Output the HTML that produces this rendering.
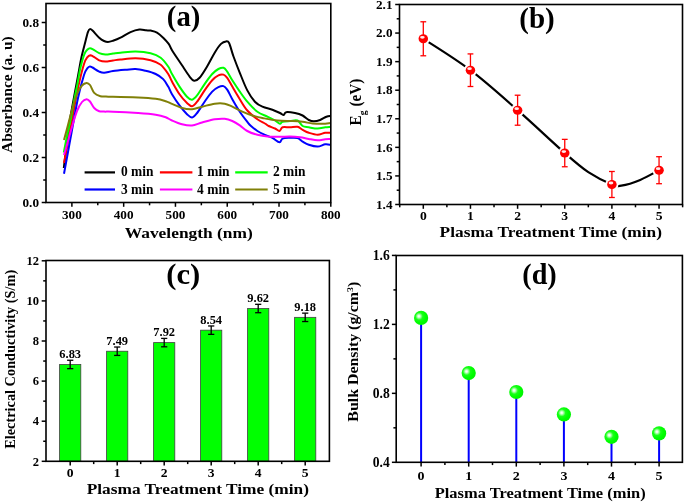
<!DOCTYPE html>
<html><head><meta charset="utf-8"><title>Figure</title>
<style>
html,body{margin:0;padding:0;background:#fff;}
svg{display:block;font-family:"Liberation Serif",serif;font-weight:bold;fill:#000;}
</style></head><body>
<svg width="685" height="502" viewBox="0 0 685 502">
<defs>
<radialGradient id="gg" cx="0.38" cy="0.4" r="0.62" fx="0.34" fy="0.38">
<stop offset="0" stop-color="#ffffff"/><stop offset="0.12" stop-color="#e0ffe0"/><stop offset="0.42" stop-color="#18ff18"/><stop offset="0.7" stop-color="#00ff00"/><stop offset="1" stop-color="#00f200"/>
</radialGradient>
</defs>
<rect width="685" height="502" fill="#fff"/>
<g id="pa">
<path d="M63.8,168.0 C64.2,164.3 65.7,153.0 66.5,146.0 C67.3,139.0 67.7,133.7 68.9,126.0 C70.1,118.3 72.0,108.4 73.5,100.0 C75.0,91.6 76.8,82.5 78.1,75.5 C79.4,68.5 80.1,63.6 81.3,58.0 C82.5,52.4 84.2,46.4 85.3,42.0 C86.4,37.6 87.2,34.0 88.0,31.8 C88.8,29.7 89.2,29.3 89.9,29.1 C90.7,28.9 91.0,29.1 92.5,30.5 C94.0,31.9 97.3,36.0 99.2,37.7 C101.1,39.5 102.5,40.3 104.0,41.0 C105.5,41.7 106.5,42.0 108.0,42.0 C109.5,42.0 110.9,41.5 113.0,40.8 C115.1,40.1 117.6,39.2 120.5,37.7 C123.4,36.2 127.4,33.5 130.5,32.1 C133.6,30.8 136.7,29.9 139.3,29.6 C141.9,29.3 144.1,30.1 146.0,30.3 C147.9,30.5 148.8,30.2 150.6,30.6 C152.4,31.0 154.9,31.4 157.0,32.6 C159.1,33.8 161.2,35.8 163.2,37.7 C165.1,39.6 167.2,41.8 168.7,43.9 C170.2,46.0 169.8,46.6 172.0,50.2 C174.2,53.8 179.1,60.9 182.0,65.3 C184.9,69.7 187.6,74.0 189.6,76.6 C191.6,79.2 192.4,80.6 194.1,80.8 C195.8,81.0 197.4,80.2 199.6,77.8 C201.8,75.4 204.6,70.7 207.1,66.5 C209.6,62.3 212.4,56.5 214.7,52.7 C217.0,48.9 219.1,45.8 221.0,43.9 C222.9,42.0 224.6,41.5 226.0,41.4 C227.4,41.3 227.9,40.7 229.2,43.2 C230.4,45.7 231.7,51.6 233.5,56.5 C235.3,61.4 237.5,67.1 239.8,72.8 C242.1,78.5 244.8,85.6 247.3,90.4 C249.8,95.2 252.4,99.0 254.9,101.7 C257.4,104.4 259.5,105.4 262.4,106.7 C265.3,108.0 269.5,108.7 272.4,109.7 C275.3,110.8 278.1,112.1 280.0,113.0 C281.9,113.9 282.7,115.1 283.7,115.0 C284.7,114.9 284.3,112.5 286.2,112.2 C288.1,111.9 292.3,112.5 295.0,113.0 C297.7,113.5 300.3,114.3 302.6,115.5 C304.9,116.7 306.9,119.0 308.8,120.0 C310.7,121.0 312.0,121.3 313.9,121.3 C315.8,121.3 318.0,120.8 320.1,120.0 C322.2,119.2 324.6,117.4 326.4,116.7 C328.2,116.0 330.0,116.1 330.7,116.0" fill="none" stroke="black" stroke-width="2" stroke-linejoin="round"/>
<path d="M64.0,163.0 C64.7,159.5 66.7,149.2 68.0,142.0 C69.3,134.8 70.3,129.0 72.0,120.0 C73.7,111.0 76.0,97.3 78.0,88.0 C80.0,78.7 82.4,69.1 84.0,64.0 C85.6,58.9 86.4,58.7 87.5,57.2 C88.6,55.7 89.5,55.4 90.4,55.2 C91.3,55.1 91.5,55.4 93.0,56.3 C94.5,57.1 97.1,59.4 99.2,60.3 C101.3,61.2 103.1,61.5 105.4,61.5 C107.7,61.5 110.5,60.7 113.0,60.4 C115.5,60.1 116.7,59.9 120.5,59.5 C124.3,59.1 130.6,58.1 135.6,58.2 C140.6,58.3 146.4,59.2 150.6,60.3 C154.8,61.4 157.8,62.5 160.7,64.8 C163.6,67.1 166.3,71.2 168.2,74.0 C170.1,76.8 170.1,78.2 172.0,81.6 C173.9,85.0 177.0,90.6 179.5,94.2 C182.0,97.8 184.9,101.0 187.0,103.0 C189.1,105.0 190.4,106.4 192.1,106.2 C193.8,106.0 195.0,104.3 197.1,101.7 C199.2,99.1 202.1,94.0 204.6,90.4 C207.1,86.8 209.9,82.8 212.2,80.3 C214.5,77.8 216.5,76.2 218.4,75.3 C220.3,74.3 222.0,74.2 223.5,74.6 C225.0,75.0 225.7,75.8 227.2,77.8 C228.7,79.8 230.2,83.0 232.3,86.6 C234.4,90.2 237.3,95.2 239.8,99.2 C242.3,103.2 244.4,107.2 247.3,110.5 C250.2,113.8 254.5,117.1 257.4,119.3 C260.3,121.5 263.0,122.4 264.9,123.5 C266.8,124.6 267.0,125.2 268.7,126.0 C270.4,126.8 273.2,127.7 275.0,128.5 C276.8,129.3 278.2,131.2 279.5,131.0 C280.8,130.8 280.8,127.9 282.5,127.3 C284.2,126.7 287.5,127.4 290.0,127.3 C292.5,127.2 295.4,126.4 297.5,126.8 C299.6,127.2 300.7,128.8 302.6,129.8 C304.5,130.8 306.3,132.0 308.8,132.8 C311.3,133.6 314.9,134.8 317.6,134.8 C320.3,134.8 323.0,133.1 325.2,132.8 C327.4,132.5 329.8,132.8 330.7,132.8" fill="none" stroke="#ff0000" stroke-width="2" stroke-linejoin="round"/>
<path d="M63.8,152.5 C64.3,149.8 65.9,141.4 67.0,136.0 C68.1,130.6 69.3,125.8 70.5,120.0 C71.7,114.2 72.9,106.9 74.0,101.0 C75.1,95.1 76.2,90.2 77.3,84.6 C78.4,79.0 79.3,72.6 80.5,67.5 C81.7,62.4 83.3,56.8 84.5,53.8 C85.7,50.8 86.6,50.4 87.5,49.5 C88.4,48.6 89.1,48.2 90.0,48.2 C90.9,48.2 91.5,48.5 93.0,49.3 C94.5,50.1 97.1,52.3 99.2,53.2 C101.3,54.1 103.1,54.4 105.4,54.5 C107.7,54.6 110.5,53.9 113.0,53.6 C115.5,53.3 116.7,53.1 120.5,52.7 C124.3,52.4 130.6,51.4 135.6,51.5 C140.6,51.6 146.4,52.2 150.6,53.2 C154.8,54.2 157.8,55.5 160.7,57.7 C163.6,59.9 166.3,63.8 168.2,66.5 C170.1,69.2 170.1,70.7 172.0,74.0 C173.9,77.3 177.0,82.8 179.5,86.6 C182.0,90.4 184.9,94.5 187.0,96.7 C189.1,98.9 190.4,99.9 192.1,99.7 C193.8,99.5 195.0,98.0 197.1,95.4 C199.2,92.8 202.1,87.7 204.6,84.1 C207.1,80.5 209.9,76.5 212.2,74.0 C214.5,71.5 216.5,70.0 218.4,69.0 C220.3,68.0 222.0,67.4 223.5,67.8 C225.0,68.2 225.7,69.5 227.2,71.6 C228.7,73.7 230.2,77.0 232.3,80.3 C234.4,83.6 237.3,88.0 239.8,91.6 C242.3,95.2 244.4,98.3 247.3,101.7 C250.2,105.1 254.0,109.2 257.4,111.7 C260.8,114.2 264.5,115.2 267.4,116.7 C270.3,118.2 272.9,119.3 275.0,120.5 C277.1,121.7 278.8,123.6 280.0,123.8 C281.2,124.0 280.8,122.3 282.5,121.8 C284.2,121.3 287.5,121.2 290.0,121.0 C292.5,120.8 295.4,119.7 297.5,120.5 C299.6,121.3 300.7,124.9 302.6,126.0 C304.5,127.1 306.3,126.9 308.8,127.3 C311.3,127.7 314.9,128.5 317.6,128.5 C320.3,128.5 323.0,127.6 325.2,127.3 C327.4,127.0 329.8,126.9 330.7,126.8" fill="none" stroke="#00ff00" stroke-width="2" stroke-linejoin="round"/>
<path d="M64.0,173.7 C64.7,170.1 66.7,159.3 68.0,152.0 C69.3,144.7 70.3,139.0 72.0,130.0 C73.7,121.0 76.0,107.2 78.0,98.0 C80.0,88.8 82.4,80.0 84.0,75.0 C85.6,70.0 86.5,69.6 87.5,68.2 C88.5,66.8 89.1,66.6 89.9,66.5 C90.7,66.4 91.0,66.7 92.5,67.5 C94.0,68.3 97.2,70.7 99.2,71.6 C101.2,72.5 101.9,72.9 104.2,72.8 C106.5,72.7 109.5,71.5 113.0,71.0 C116.5,70.5 121.7,70.1 125.5,69.8 C129.3,69.5 132.2,68.8 135.6,69.0 C138.9,69.2 142.2,70.0 145.6,70.8 C148.9,71.6 152.8,72.6 155.7,74.0 C158.6,75.4 161.1,77.0 163.2,79.1 C165.3,81.2 166.7,84.1 168.2,86.6 C169.7,89.1 170.1,91.1 172.0,94.2 C173.9,97.3 177.0,102.1 179.5,105.4 C182.0,108.7 184.9,112.2 187.0,114.2 C189.1,116.2 190.4,117.7 192.1,117.5 C193.8,117.3 195.0,115.6 197.1,113.0 C199.2,110.4 202.1,105.3 204.6,101.7 C207.1,98.1 209.9,94.0 212.2,91.6 C214.5,89.2 216.5,88.0 218.4,87.1 C220.3,86.2 222.0,85.7 223.5,86.1 C225.0,86.5 225.7,87.4 227.2,89.6 C228.7,91.8 230.2,95.5 232.3,99.2 C234.4,102.9 237.3,107.9 239.8,111.7 C242.3,115.5 245.4,119.4 247.3,121.8 C249.2,124.2 249.3,124.5 251.0,126.0 C252.7,127.5 255.1,129.5 257.4,131.0 C259.7,132.5 262.4,133.7 264.9,134.8 C267.4,135.9 270.0,136.6 272.4,137.8 C274.8,139.1 277.8,142.2 279.5,142.3 C281.2,142.4 280.8,139.3 282.5,138.6 C284.2,137.8 287.5,137.9 290.0,137.8 C292.5,137.7 295.4,137.4 297.5,138.0 C299.6,138.6 300.7,140.5 302.6,141.6 C304.5,142.7 306.3,144.0 308.8,144.8 C311.3,145.6 314.9,146.7 317.6,146.6 C320.3,146.5 323.0,144.6 325.2,144.3 C327.4,144.0 329.8,144.7 330.7,144.8" fill="none" stroke="#0000ff" stroke-width="2" stroke-linejoin="round"/>
<path d="M64.0,155.0 C64.7,152.7 66.7,145.7 68.0,141.0 C69.3,136.3 70.5,132.0 72.0,127.0 C73.5,122.0 75.3,115.2 77.0,111.0 C78.7,106.8 80.4,104.0 82.0,102.0 C83.6,100.0 85.3,99.3 86.6,99.2 C87.9,99.1 88.7,100.0 90.0,101.5 C91.3,103.0 92.7,106.4 94.2,108.0 C95.7,109.6 97.6,110.6 99.2,111.2 C100.8,111.8 101.7,111.5 104.0,111.6 C106.3,111.7 107.3,111.5 113.0,111.7 C118.7,111.9 131.0,112.5 138.1,113.0 C145.2,113.5 151.1,114.0 155.7,114.7 C160.3,115.4 163.0,116.3 165.7,117.3 C168.4,118.3 169.3,119.3 172.0,120.5 C174.7,121.7 178.7,123.5 182.0,124.3 C185.3,125.1 188.7,125.8 192.0,125.5 C195.3,125.2 198.3,123.5 202.1,122.5 C205.9,121.5 210.9,119.9 214.7,119.3 C218.5,118.7 221.8,118.5 224.7,118.8 C227.6,119.1 229.8,119.9 232.3,121.0 C234.8,122.1 237.3,123.7 239.8,125.4 C242.3,127.1 244.4,129.4 247.3,131.0 C250.2,132.6 254.0,133.9 257.4,134.8 C260.8,135.7 263.6,136.2 267.4,136.5 C271.2,136.8 276.2,136.8 280.0,136.8 C283.8,136.8 286.7,136.4 290.0,136.5 C293.3,136.6 296.9,136.9 300.0,137.3 C303.1,137.7 305.9,138.5 308.8,139.0 C311.7,139.5 314.9,140.2 317.6,140.3 C320.3,140.4 323.0,139.5 325.2,139.3 C327.4,139.1 329.8,139.1 330.7,139.0" fill="none" stroke="#ff00ff" stroke-width="2" stroke-linejoin="round"/>
<path d="M64.0,140.0 C64.7,137.5 66.7,130.0 68.0,125.0 C69.3,120.0 70.5,115.2 72.0,110.0 C73.5,104.8 75.3,98.1 77.0,94.0 C78.7,89.9 80.4,87.3 82.0,85.5 C83.6,83.7 85.3,83.0 86.6,82.9 C87.9,82.8 88.7,83.3 90.0,85.0 C91.3,86.7 92.5,91.0 94.2,92.9 C95.9,94.8 98.4,95.6 100.4,96.2 C102.4,96.8 103.9,96.5 106.0,96.6 C108.1,96.7 107.7,96.6 113.0,96.7 C118.3,96.8 131.0,97.1 138.1,97.4 C145.2,97.7 151.1,98.1 155.7,98.7 C160.3,99.3 163.0,100.3 165.7,101.2 C168.4,102.1 169.3,102.8 172.0,103.9 C174.7,105.0 178.7,107.1 182.0,108.0 C185.3,108.9 188.8,109.4 192.1,109.2 C195.4,109.0 198.3,107.6 202.1,106.7 C205.9,105.8 210.9,104.2 214.7,103.7 C218.5,103.2 221.8,103.2 224.7,103.7 C227.6,104.2 229.4,105.4 232.3,106.7 C235.2,108.0 239.0,110.2 242.3,111.7 C245.6,113.2 249.0,114.5 252.3,115.5 C255.7,116.5 258.2,117.2 262.4,118.0 C266.6,118.8 272.4,120.0 277.4,120.5 C282.4,121.0 288.3,120.8 292.5,121.0 C296.7,121.2 299.2,121.4 302.6,121.8 C306.0,122.2 309.3,123.2 312.6,123.5 C315.9,123.8 319.6,123.9 322.6,123.8 C325.6,123.7 329.4,123.1 330.7,123.0" fill="none" stroke="#808008" stroke-width="2" stroke-linejoin="round"/>
<rect x="46" y="3.5" width="284.8" height="199.0" fill="none" stroke="#000" stroke-width="1.6"/>
<line x1="41.70" y1="202.50" x2="46.00" y2="202.50" stroke="#000" stroke-width="1.5" />
<text x="39.00" y="206.70" font-size="12.5" text-anchor="end" textLength="16.5" lengthAdjust="spacingAndGlyphs" >0.0</text>
<line x1="41.70" y1="157.50" x2="46.00" y2="157.50" stroke="#000" stroke-width="1.5" />
<text x="39.00" y="161.70" font-size="12.5" text-anchor="end" textLength="16.5" lengthAdjust="spacingAndGlyphs" >0.2</text>
<line x1="41.70" y1="112.50" x2="46.00" y2="112.50" stroke="#000" stroke-width="1.5" />
<text x="39.00" y="116.70" font-size="12.5" text-anchor="end" textLength="16.5" lengthAdjust="spacingAndGlyphs" >0.4</text>
<line x1="41.70" y1="67.50" x2="46.00" y2="67.50" stroke="#000" stroke-width="1.5" />
<text x="39.00" y="71.70" font-size="12.5" text-anchor="end" textLength="16.5" lengthAdjust="spacingAndGlyphs" >0.6</text>
<line x1="41.70" y1="22.50" x2="46.00" y2="22.50" stroke="#000" stroke-width="1.5" />
<text x="39.00" y="26.70" font-size="12.5" text-anchor="end" textLength="16.5" lengthAdjust="spacingAndGlyphs" >0.8</text>
<line x1="43.20" y1="180.00" x2="46.00" y2="180.00" stroke="#000" stroke-width="1.5" />
<line x1="43.20" y1="135.00" x2="46.00" y2="135.00" stroke="#000" stroke-width="1.5" />
<line x1="43.20" y1="90.00" x2="46.00" y2="90.00" stroke="#000" stroke-width="1.5" />
<line x1="43.20" y1="45.00" x2="46.00" y2="45.00" stroke="#000" stroke-width="1.5" />
<line x1="71.89" y1="202.50" x2="71.89" y2="206.80" stroke="#000" stroke-width="1.5" />
<text x="71.89" y="219.10" font-size="12.5" text-anchor="middle" textLength="19.8" lengthAdjust="spacingAndGlyphs" >300</text>
<line x1="123.67" y1="202.50" x2="123.67" y2="206.80" stroke="#000" stroke-width="1.5" />
<text x="123.67" y="219.10" font-size="12.5" text-anchor="middle" textLength="19.8" lengthAdjust="spacingAndGlyphs" >400</text>
<line x1="175.45" y1="202.50" x2="175.45" y2="206.80" stroke="#000" stroke-width="1.5" />
<text x="175.45" y="219.10" font-size="12.5" text-anchor="middle" textLength="19.8" lengthAdjust="spacingAndGlyphs" >500</text>
<line x1="227.24" y1="202.50" x2="227.24" y2="206.80" stroke="#000" stroke-width="1.5" />
<text x="227.24" y="219.10" font-size="12.5" text-anchor="middle" textLength="19.8" lengthAdjust="spacingAndGlyphs" >600</text>
<line x1="279.02" y1="202.50" x2="279.02" y2="206.80" stroke="#000" stroke-width="1.5" />
<text x="279.02" y="219.10" font-size="12.5" text-anchor="middle" textLength="19.8" lengthAdjust="spacingAndGlyphs" >700</text>
<line x1="330.80" y1="202.50" x2="330.80" y2="206.80" stroke="#000" stroke-width="1.5" />
<text x="330.80" y="219.10" font-size="12.5" text-anchor="middle" textLength="19.8" lengthAdjust="spacingAndGlyphs" >800</text>
<line x1="97.78" y1="202.50" x2="97.78" y2="205.30" stroke="#000" stroke-width="1.5" />
<line x1="149.56" y1="202.50" x2="149.56" y2="205.30" stroke="#000" stroke-width="1.5" />
<line x1="201.35" y1="202.50" x2="201.35" y2="205.30" stroke="#000" stroke-width="1.5" />
<line x1="253.13" y1="202.50" x2="253.13" y2="205.30" stroke="#000" stroke-width="1.5" />
<line x1="304.91" y1="202.50" x2="304.91" y2="205.30" stroke="#000" stroke-width="1.5" />
<text x="188.80" y="237.70" font-size="15" text-anchor="middle" textLength="128" lengthAdjust="spacingAndGlyphs" >Wavelength (nm)</text>
<text transform="translate(11.50,94.70) rotate(-90)" font-size="14.5" text-anchor="middle" textLength="116.5" lengthAdjust="spacingAndGlyphs">Absorbance (a. u)</text>
<text x="183.60" y="26.00" font-size="29" text-anchor="middle" textLength="33.5" lengthAdjust="spacingAndGlyphs" >(a)</text>
<line x1="84.60" y1="172.40" x2="115.00" y2="172.40" stroke="black" stroke-width="2.2" />
<text x="121.00" y="176.40" font-size="14" text-anchor="start" textLength="32.5" lengthAdjust="spacingAndGlyphs" >0 min</text>
<line x1="159.90" y1="172.40" x2="192.40" y2="172.40" stroke="#ff0000" stroke-width="2.2" />
<text x="197.10" y="176.40" font-size="14" text-anchor="start" textLength="32.5" lengthAdjust="spacingAndGlyphs" >1 min</text>
<line x1="235.20" y1="172.40" x2="267.70" y2="172.40" stroke="#00ff00" stroke-width="2.2" />
<text x="272.90" y="176.40" font-size="14" text-anchor="start" textLength="32.5" lengthAdjust="spacingAndGlyphs" >2 min</text>
<line x1="84.60" y1="189.50" x2="115.00" y2="189.50" stroke="#0000ff" stroke-width="2.2" />
<text x="121.00" y="193.50" font-size="14" text-anchor="start" textLength="32.5" lengthAdjust="spacingAndGlyphs" >3 min</text>
<line x1="159.90" y1="189.50" x2="192.40" y2="189.50" stroke="#ff00ff" stroke-width="2.2" />
<text x="197.10" y="193.50" font-size="14" text-anchor="start" textLength="32.5" lengthAdjust="spacingAndGlyphs" >4 min</text>
<line x1="235.20" y1="189.50" x2="267.70" y2="189.50" stroke="#808008" stroke-width="2.2" />
<text x="272.90" y="193.50" font-size="14" text-anchor="start" textLength="32.5" lengthAdjust="spacingAndGlyphs" >5 min</text>
</g>
<g id="pb">
<rect x="399.5" y="4.5" width="283.0" height="200.0" fill="none" stroke="#000" stroke-width="1.6"/>
<line x1="395.20" y1="204.49" x2="399.50" y2="204.49" stroke="#000" stroke-width="1.5" />
<text x="392.50" y="208.69" font-size="12.5" text-anchor="end" textLength="16.5" lengthAdjust="spacingAndGlyphs" >1.4</text>
<line x1="395.20" y1="175.92" x2="399.50" y2="175.92" stroke="#000" stroke-width="1.5" />
<text x="392.50" y="180.12" font-size="12.5" text-anchor="end" textLength="16.5" lengthAdjust="spacingAndGlyphs" >1.5</text>
<line x1="395.20" y1="147.35" x2="399.50" y2="147.35" stroke="#000" stroke-width="1.5" />
<text x="392.50" y="151.55" font-size="12.5" text-anchor="end" textLength="16.5" lengthAdjust="spacingAndGlyphs" >1.6</text>
<line x1="395.20" y1="118.78" x2="399.50" y2="118.78" stroke="#000" stroke-width="1.5" />
<text x="392.50" y="122.98" font-size="12.5" text-anchor="end" textLength="16.5" lengthAdjust="spacingAndGlyphs" >1.7</text>
<line x1="395.20" y1="90.21" x2="399.50" y2="90.21" stroke="#000" stroke-width="1.5" />
<text x="392.50" y="94.41" font-size="12.5" text-anchor="end" textLength="16.5" lengthAdjust="spacingAndGlyphs" >1.8</text>
<line x1="395.20" y1="61.64" x2="399.50" y2="61.64" stroke="#000" stroke-width="1.5" />
<text x="392.50" y="65.84" font-size="12.5" text-anchor="end" textLength="16.5" lengthAdjust="spacingAndGlyphs" >1.9</text>
<line x1="395.20" y1="33.07" x2="399.50" y2="33.07" stroke="#000" stroke-width="1.5" />
<text x="392.50" y="37.27" font-size="12.5" text-anchor="end" textLength="16.5" lengthAdjust="spacingAndGlyphs" >2.0</text>
<line x1="395.20" y1="4.50" x2="399.50" y2="4.50" stroke="#000" stroke-width="1.5" />
<text x="392.50" y="8.70" font-size="12.5" text-anchor="end" textLength="16.5" lengthAdjust="spacingAndGlyphs" >2.1</text>
<line x1="396.70" y1="190.21" x2="399.50" y2="190.21" stroke="#000" stroke-width="1.5" />
<line x1="396.70" y1="161.64" x2="399.50" y2="161.64" stroke="#000" stroke-width="1.5" />
<line x1="396.70" y1="133.07" x2="399.50" y2="133.07" stroke="#000" stroke-width="1.5" />
<line x1="396.70" y1="104.50" x2="399.50" y2="104.50" stroke="#000" stroke-width="1.5" />
<line x1="396.70" y1="75.92" x2="399.50" y2="75.92" stroke="#000" stroke-width="1.5" />
<line x1="396.70" y1="47.36" x2="399.50" y2="47.36" stroke="#000" stroke-width="1.5" />
<line x1="396.70" y1="18.79" x2="399.50" y2="18.79" stroke="#000" stroke-width="1.5" />
<line x1="423.30" y1="204.50" x2="423.30" y2="208.80" stroke="#000" stroke-width="1.5" />
<text x="423.30" y="220.30" font-size="12.5" text-anchor="middle" textLength="6.8" lengthAdjust="spacingAndGlyphs" >0</text>
<line x1="470.45" y1="204.50" x2="470.45" y2="208.80" stroke="#000" stroke-width="1.5" />
<text x="470.45" y="220.30" font-size="12.5" text-anchor="middle" textLength="6.8" lengthAdjust="spacingAndGlyphs" >1</text>
<line x1="517.60" y1="204.50" x2="517.60" y2="208.80" stroke="#000" stroke-width="1.5" />
<text x="517.60" y="220.30" font-size="12.5" text-anchor="middle" textLength="6.8" lengthAdjust="spacingAndGlyphs" >2</text>
<line x1="564.75" y1="204.50" x2="564.75" y2="208.80" stroke="#000" stroke-width="1.5" />
<text x="564.75" y="220.30" font-size="12.5" text-anchor="middle" textLength="6.8" lengthAdjust="spacingAndGlyphs" >3</text>
<line x1="611.90" y1="204.50" x2="611.90" y2="208.80" stroke="#000" stroke-width="1.5" />
<text x="611.90" y="220.30" font-size="12.5" text-anchor="middle" textLength="6.8" lengthAdjust="spacingAndGlyphs" >4</text>
<line x1="659.05" y1="204.50" x2="659.05" y2="208.80" stroke="#000" stroke-width="1.5" />
<text x="659.05" y="220.30" font-size="12.5" text-anchor="middle" textLength="6.8" lengthAdjust="spacingAndGlyphs" >5</text>
<line x1="399.73" y1="204.50" x2="399.73" y2="207.30" stroke="#000" stroke-width="1.5" />
<line x1="446.88" y1="204.50" x2="446.88" y2="207.30" stroke="#000" stroke-width="1.5" />
<line x1="494.02" y1="204.50" x2="494.02" y2="207.30" stroke="#000" stroke-width="1.5" />
<line x1="541.17" y1="204.50" x2="541.17" y2="207.30" stroke="#000" stroke-width="1.5" />
<line x1="588.33" y1="204.50" x2="588.33" y2="207.30" stroke="#000" stroke-width="1.5" />
<line x1="635.48" y1="204.50" x2="635.48" y2="207.30" stroke="#000" stroke-width="1.5" />
<line x1="682.62" y1="204.50" x2="682.62" y2="207.30" stroke="#000" stroke-width="1.5" />
<path d="M423.3,38.8 C431.2,44.0 454.7,58.3 470.4,70.2 C486.2,82.1 501.9,96.4 517.6,110.2 C533.3,124.0 553.0,142.7 564.8,153.1 C576.5,163.4 580.5,167.0 588.3,172.2 C596.2,177.4 606.4,182.3 611.9,184.5 C617.4,186.7 616.6,186.4 621.3,185.6 C626.0,184.9 633.9,182.5 640.2,179.9 C646.5,177.3 655.9,171.8 659.0,170.2" fill="none" stroke="#000" stroke-width="2.2"/>
<circle cx="423.30" cy="38.78" r="6.6" fill="#fff"/>
<circle cx="470.45" cy="70.21" r="6.6" fill="#fff"/>
<circle cx="517.60" cy="110.21" r="6.6" fill="#fff"/>
<circle cx="564.75" cy="153.06" r="6.6" fill="#fff"/>
<circle cx="611.90" cy="184.49" r="6.6" fill="#fff"/>
<circle cx="659.05" cy="170.21" r="6.6" fill="#fff"/>
<line x1="423.30" y1="21.78" x2="423.30" y2="55.78" stroke="#ff0000" stroke-width="1.3" />
<line x1="420.40" y1="21.78" x2="426.20" y2="21.78" stroke="#ff0000" stroke-width="1.3" />
<line x1="420.40" y1="55.78" x2="426.20" y2="55.78" stroke="#ff0000" stroke-width="1.3" />
<ellipse cx="423.30" cy="38.78" rx="4.75" ry="4.55" fill="#ff0000"/>
<ellipse cx="422.40" cy="37.28" rx="2.3" ry="1.4" fill="#fff" opacity="0.92"/>
<line x1="470.45" y1="53.91" x2="470.45" y2="86.51" stroke="#ff0000" stroke-width="1.3" />
<line x1="467.55" y1="53.91" x2="473.35" y2="53.91" stroke="#ff0000" stroke-width="1.3" />
<line x1="467.55" y1="86.51" x2="473.35" y2="86.51" stroke="#ff0000" stroke-width="1.3" />
<ellipse cx="470.45" cy="70.21" rx="4.75" ry="4.55" fill="#ff0000"/>
<ellipse cx="469.55" cy="68.71" rx="2.3" ry="1.4" fill="#fff" opacity="0.92"/>
<line x1="517.60" y1="95.21" x2="517.60" y2="125.21" stroke="#ff0000" stroke-width="1.3" />
<line x1="514.70" y1="95.21" x2="520.50" y2="95.21" stroke="#ff0000" stroke-width="1.3" />
<line x1="514.70" y1="125.21" x2="520.50" y2="125.21" stroke="#ff0000" stroke-width="1.3" />
<ellipse cx="517.60" cy="110.21" rx="4.75" ry="4.55" fill="#ff0000"/>
<ellipse cx="516.70" cy="108.71" rx="2.3" ry="1.4" fill="#fff" opacity="0.92"/>
<line x1="564.75" y1="139.36" x2="564.75" y2="166.76" stroke="#ff0000" stroke-width="1.3" />
<line x1="561.85" y1="139.36" x2="567.65" y2="139.36" stroke="#ff0000" stroke-width="1.3" />
<line x1="561.85" y1="166.76" x2="567.65" y2="166.76" stroke="#ff0000" stroke-width="1.3" />
<ellipse cx="564.75" cy="153.06" rx="4.75" ry="4.55" fill="#ff0000"/>
<ellipse cx="563.85" cy="151.56" rx="2.3" ry="1.4" fill="#fff" opacity="0.92"/>
<line x1="611.90" y1="171.49" x2="611.90" y2="197.49" stroke="#ff0000" stroke-width="1.3" />
<line x1="609.00" y1="171.49" x2="614.80" y2="171.49" stroke="#ff0000" stroke-width="1.3" />
<line x1="609.00" y1="197.49" x2="614.80" y2="197.49" stroke="#ff0000" stroke-width="1.3" />
<ellipse cx="611.90" cy="184.49" rx="4.75" ry="4.55" fill="#ff0000"/>
<ellipse cx="611.00" cy="182.99" rx="2.3" ry="1.4" fill="#fff" opacity="0.92"/>
<line x1="659.05" y1="156.71" x2="659.05" y2="183.71" stroke="#ff0000" stroke-width="1.3" />
<line x1="656.15" y1="156.71" x2="661.95" y2="156.71" stroke="#ff0000" stroke-width="1.3" />
<line x1="656.15" y1="183.71" x2="661.95" y2="183.71" stroke="#ff0000" stroke-width="1.3" />
<ellipse cx="659.05" cy="170.21" rx="4.75" ry="4.55" fill="#ff0000"/>
<ellipse cx="658.15" cy="168.71" rx="2.3" ry="1.4" fill="#fff" opacity="0.92"/>
<text x="550.80" y="236.50" font-size="14.5" text-anchor="middle" textLength="222.5" lengthAdjust="spacingAndGlyphs" >Plasma Treatment Time (min)</text>
<text transform="translate(361,102.1) rotate(-90)" font-size="16.5" text-anchor="middle" textLength="46.6" lengthAdjust="spacingAndGlyphs">E<tspan font-size="10.5" dy="5">g</tspan><tspan dy="-5"> (eV)</tspan></text>
<text x="537.00" y="28.30" font-size="29" text-anchor="middle" textLength="35.5" lengthAdjust="spacingAndGlyphs" >(b)</text>
</g>
<g id="pc">
<rect x="59.60" y="364.46" width="21.2" height="96.84" fill="#00ff00" stroke="#404040" stroke-width="0.8"/>
<line x1="70.20" y1="360.26" x2="70.20" y2="368.66" stroke="#000" stroke-width="1.3" />
<line x1="67.10" y1="360.26" x2="73.30" y2="360.26" stroke="#000" stroke-width="1.3" />
<line x1="67.10" y1="368.66" x2="73.30" y2="368.66" stroke="#000" stroke-width="1.3" />
<text x="70.20" y="358.06" font-size="12.3" text-anchor="middle" textLength="21.8" lengthAdjust="spacingAndGlyphs" >6.83</text>
<rect x="106.60" y="351.23" width="21.2" height="110.07" fill="#00ff00" stroke="#404040" stroke-width="0.8"/>
<line x1="117.20" y1="347.03" x2="117.20" y2="355.43" stroke="#000" stroke-width="1.3" />
<line x1="114.10" y1="347.03" x2="120.30" y2="347.03" stroke="#000" stroke-width="1.3" />
<line x1="114.10" y1="355.43" x2="120.30" y2="355.43" stroke="#000" stroke-width="1.3" />
<text x="117.20" y="344.83" font-size="12.3" text-anchor="middle" textLength="21.8" lengthAdjust="spacingAndGlyphs" >7.49</text>
<rect x="153.60" y="342.60" width="21.2" height="118.70" fill="#00ff00" stroke="#404040" stroke-width="0.8"/>
<line x1="164.20" y1="338.40" x2="164.20" y2="346.80" stroke="#000" stroke-width="1.3" />
<line x1="161.10" y1="338.40" x2="167.30" y2="338.40" stroke="#000" stroke-width="1.3" />
<line x1="161.10" y1="346.80" x2="167.30" y2="346.80" stroke="#000" stroke-width="1.3" />
<text x="164.20" y="336.20" font-size="12.3" text-anchor="middle" textLength="21.8" lengthAdjust="spacingAndGlyphs" >7.92</text>
<rect x="200.60" y="330.17" width="21.2" height="131.13" fill="#00ff00" stroke="#404040" stroke-width="0.8"/>
<line x1="211.20" y1="325.97" x2="211.20" y2="334.37" stroke="#000" stroke-width="1.3" />
<line x1="208.10" y1="325.97" x2="214.30" y2="325.97" stroke="#000" stroke-width="1.3" />
<line x1="208.10" y1="334.37" x2="214.30" y2="334.37" stroke="#000" stroke-width="1.3" />
<text x="211.20" y="323.77" font-size="12.3" text-anchor="middle" textLength="21.8" lengthAdjust="spacingAndGlyphs" >8.54</text>
<rect x="247.60" y="308.52" width="21.2" height="152.78" fill="#00ff00" stroke="#404040" stroke-width="0.8"/>
<line x1="258.20" y1="304.32" x2="258.20" y2="312.72" stroke="#000" stroke-width="1.3" />
<line x1="255.10" y1="304.32" x2="261.30" y2="304.32" stroke="#000" stroke-width="1.3" />
<line x1="255.10" y1="312.72" x2="261.30" y2="312.72" stroke="#000" stroke-width="1.3" />
<text x="258.20" y="302.12" font-size="12.3" text-anchor="middle" textLength="21.8" lengthAdjust="spacingAndGlyphs" >9.62</text>
<rect x="294.60" y="317.34" width="21.2" height="143.96" fill="#00ff00" stroke="#404040" stroke-width="0.8"/>
<line x1="305.20" y1="313.14" x2="305.20" y2="321.54" stroke="#000" stroke-width="1.3" />
<line x1="302.10" y1="313.14" x2="308.30" y2="313.14" stroke="#000" stroke-width="1.3" />
<line x1="302.10" y1="321.54" x2="308.30" y2="321.54" stroke="#000" stroke-width="1.3" />
<text x="305.20" y="310.94" font-size="12.3" text-anchor="middle" textLength="21.8" lengthAdjust="spacingAndGlyphs" >9.18</text>
<rect x="46" y="260.5" width="283.4" height="200.8" fill="none" stroke="#000" stroke-width="1.6"/>
<line x1="41.70" y1="461.30" x2="46.00" y2="461.30" stroke="#000" stroke-width="1.5" />
<text x="39.00" y="465.50" font-size="12.5" text-anchor="end" >2</text>
<line x1="41.70" y1="421.20" x2="46.00" y2="421.20" stroke="#000" stroke-width="1.5" />
<text x="39.00" y="425.40" font-size="12.5" text-anchor="end" >4</text>
<line x1="41.70" y1="381.10" x2="46.00" y2="381.10" stroke="#000" stroke-width="1.5" />
<text x="39.00" y="385.30" font-size="12.5" text-anchor="end" >6</text>
<line x1="41.70" y1="341.00" x2="46.00" y2="341.00" stroke="#000" stroke-width="1.5" />
<text x="39.00" y="345.20" font-size="12.5" text-anchor="end" >8</text>
<line x1="41.70" y1="300.90" x2="46.00" y2="300.90" stroke="#000" stroke-width="1.5" />
<text x="39.00" y="305.10" font-size="12.5" text-anchor="end" >10</text>
<line x1="41.70" y1="260.80" x2="46.00" y2="260.80" stroke="#000" stroke-width="1.5" />
<text x="39.00" y="265.00" font-size="12.5" text-anchor="end" >12</text>
<line x1="43.20" y1="441.25" x2="46.00" y2="441.25" stroke="#000" stroke-width="1.5" />
<line x1="43.20" y1="401.15" x2="46.00" y2="401.15" stroke="#000" stroke-width="1.5" />
<line x1="43.20" y1="361.05" x2="46.00" y2="361.05" stroke="#000" stroke-width="1.5" />
<line x1="43.20" y1="320.95" x2="46.00" y2="320.95" stroke="#000" stroke-width="1.5" />
<line x1="43.20" y1="280.85" x2="46.00" y2="280.85" stroke="#000" stroke-width="1.5" />
<line x1="70.20" y1="461.30" x2="70.20" y2="465.60" stroke="#000" stroke-width="1.5" />
<text x="70.20" y="476.70" font-size="12.5" text-anchor="middle" textLength="6.8" lengthAdjust="spacingAndGlyphs" >0</text>
<line x1="117.20" y1="461.30" x2="117.20" y2="465.60" stroke="#000" stroke-width="1.5" />
<text x="117.20" y="476.70" font-size="12.5" text-anchor="middle" textLength="6.8" lengthAdjust="spacingAndGlyphs" >1</text>
<line x1="164.20" y1="461.30" x2="164.20" y2="465.60" stroke="#000" stroke-width="1.5" />
<text x="164.20" y="476.70" font-size="12.5" text-anchor="middle" textLength="6.8" lengthAdjust="spacingAndGlyphs" >2</text>
<line x1="211.20" y1="461.30" x2="211.20" y2="465.60" stroke="#000" stroke-width="1.5" />
<text x="211.20" y="476.70" font-size="12.5" text-anchor="middle" textLength="6.8" lengthAdjust="spacingAndGlyphs" >3</text>
<line x1="258.20" y1="461.30" x2="258.20" y2="465.60" stroke="#000" stroke-width="1.5" />
<text x="258.20" y="476.70" font-size="12.5" text-anchor="middle" textLength="6.8" lengthAdjust="spacingAndGlyphs" >4</text>
<line x1="305.20" y1="461.30" x2="305.20" y2="465.60" stroke="#000" stroke-width="1.5" />
<text x="305.20" y="476.70" font-size="12.5" text-anchor="middle" textLength="6.8" lengthAdjust="spacingAndGlyphs" >5</text>
<line x1="93.70" y1="461.30" x2="93.70" y2="464.10" stroke="#000" stroke-width="1.5" />
<line x1="140.70" y1="461.30" x2="140.70" y2="464.10" stroke="#000" stroke-width="1.5" />
<line x1="187.70" y1="461.30" x2="187.70" y2="464.10" stroke="#000" stroke-width="1.5" />
<line x1="234.70" y1="461.30" x2="234.70" y2="464.10" stroke="#000" stroke-width="1.5" />
<line x1="281.70" y1="461.30" x2="281.70" y2="464.10" stroke="#000" stroke-width="1.5" />
<text x="197.80" y="494.30" font-size="14.5" text-anchor="middle" textLength="222.3" lengthAdjust="spacingAndGlyphs" >Plasma Treatment Time (min)</text>
<text transform="translate(15.40,359.30) rotate(-90)" font-size="14.5" text-anchor="middle" textLength="179" lengthAdjust="spacingAndGlyphs">Electrical Conductivity (S/m)</text>
<text x="183.30" y="283.70" font-size="29" text-anchor="middle" textLength="34" lengthAdjust="spacingAndGlyphs" >(c)</text>
</g>
<g id="pd">
<line x1="421.10" y1="317.48" x2="421.10" y2="462.30" stroke="#0000ff" stroke-width="2" />
<line x1="468.70" y1="372.65" x2="468.70" y2="462.30" stroke="#0000ff" stroke-width="2" />
<line x1="516.30" y1="391.62" x2="516.30" y2="462.30" stroke="#0000ff" stroke-width="2" />
<line x1="563.90" y1="414.03" x2="563.90" y2="462.30" stroke="#0000ff" stroke-width="2" />
<line x1="611.50" y1="436.44" x2="611.50" y2="462.30" stroke="#0000ff" stroke-width="2" />
<line x1="659.10" y1="432.99" x2="659.10" y2="462.30" stroke="#0000ff" stroke-width="2" />
<rect x="396.2" y="255.5" width="286.2" height="206.8" fill="none" stroke="#000" stroke-width="1.6"/>
<circle cx="421.10" cy="317.88" r="7.1" fill="url(#gg)"/>
<circle cx="468.70" cy="373.05" r="7.1" fill="url(#gg)"/>
<circle cx="516.30" cy="392.02" r="7.1" fill="url(#gg)"/>
<circle cx="563.90" cy="414.43" r="7.1" fill="url(#gg)"/>
<circle cx="611.50" cy="436.84" r="7.1" fill="url(#gg)"/>
<circle cx="659.10" cy="433.39" r="7.1" fill="url(#gg)"/>
<line x1="391.90" y1="462.30" x2="396.20" y2="462.30" stroke="#000" stroke-width="1.5" />
<text x="389.70" y="466.90" font-size="13.7" text-anchor="end" textLength="17" lengthAdjust="spacingAndGlyphs" >0.4</text>
<line x1="391.90" y1="393.34" x2="396.20" y2="393.34" stroke="#000" stroke-width="1.5" />
<text x="389.70" y="397.94" font-size="13.7" text-anchor="end" textLength="17" lengthAdjust="spacingAndGlyphs" >0.8</text>
<line x1="391.90" y1="324.38" x2="396.20" y2="324.38" stroke="#000" stroke-width="1.5" />
<text x="389.70" y="328.98" font-size="13.7" text-anchor="end" textLength="17" lengthAdjust="spacingAndGlyphs" >1.2</text>
<line x1="391.90" y1="255.42" x2="396.20" y2="255.42" stroke="#000" stroke-width="1.5" />
<text x="389.70" y="260.02" font-size="13.7" text-anchor="end" textLength="17" lengthAdjust="spacingAndGlyphs" >1.6</text>
<line x1="393.40" y1="427.82" x2="396.20" y2="427.82" stroke="#000" stroke-width="1.5" />
<line x1="393.40" y1="358.86" x2="396.20" y2="358.86" stroke="#000" stroke-width="1.5" />
<line x1="393.40" y1="289.90" x2="396.20" y2="289.90" stroke="#000" stroke-width="1.5" />
<line x1="421.10" y1="462.30" x2="421.10" y2="466.60" stroke="#000" stroke-width="1.5" />
<text x="421.10" y="479.80" font-size="13.2" text-anchor="middle" textLength="7" lengthAdjust="spacingAndGlyphs" >0</text>
<line x1="468.70" y1="462.30" x2="468.70" y2="466.60" stroke="#000" stroke-width="1.5" />
<text x="468.70" y="479.80" font-size="13.2" text-anchor="middle" textLength="7" lengthAdjust="spacingAndGlyphs" >1</text>
<line x1="516.30" y1="462.30" x2="516.30" y2="466.60" stroke="#000" stroke-width="1.5" />
<text x="516.30" y="479.80" font-size="13.2" text-anchor="middle" textLength="7" lengthAdjust="spacingAndGlyphs" >2</text>
<line x1="563.90" y1="462.30" x2="563.90" y2="466.60" stroke="#000" stroke-width="1.5" />
<text x="563.90" y="479.80" font-size="13.2" text-anchor="middle" textLength="7" lengthAdjust="spacingAndGlyphs" >3</text>
<line x1="611.50" y1="462.30" x2="611.50" y2="466.60" stroke="#000" stroke-width="1.5" />
<text x="611.50" y="479.80" font-size="13.2" text-anchor="middle" textLength="7" lengthAdjust="spacingAndGlyphs" >4</text>
<line x1="659.10" y1="462.30" x2="659.10" y2="466.60" stroke="#000" stroke-width="1.5" />
<text x="659.10" y="479.80" font-size="13.2" text-anchor="middle" textLength="7" lengthAdjust="spacingAndGlyphs" >5</text>
<line x1="444.90" y1="462.30" x2="444.90" y2="465.10" stroke="#000" stroke-width="1.5" />
<line x1="492.50" y1="462.30" x2="492.50" y2="465.10" stroke="#000" stroke-width="1.5" />
<line x1="540.10" y1="462.30" x2="540.10" y2="465.10" stroke="#000" stroke-width="1.5" />
<line x1="587.70" y1="462.30" x2="587.70" y2="465.10" stroke="#000" stroke-width="1.5" />
<line x1="635.30" y1="462.30" x2="635.30" y2="465.10" stroke="#000" stroke-width="1.5" />
<text x="540.20" y="498.20" font-size="14.5" text-anchor="middle" textLength="211" lengthAdjust="spacingAndGlyphs" >Plasma Treatment Time (min)</text>
<text transform="translate(358.4,351.7) rotate(-90)" font-size="14.5" text-anchor="middle" textLength="140" lengthAdjust="spacingAndGlyphs">Bulk Density (g/cm<tspan font-size="9" dy="-5">3</tspan><tspan dy="5">)</tspan></text>
<text x="539.50" y="283.70" font-size="29" text-anchor="middle" textLength="34.5" lengthAdjust="spacingAndGlyphs" >(d)</text>
</g>
</svg>
</body></html>
